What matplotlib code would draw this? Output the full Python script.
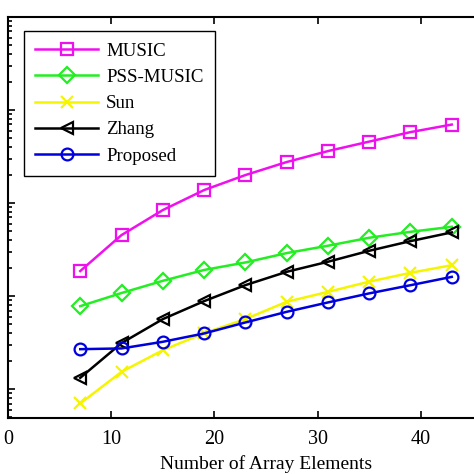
import matplotlib
matplotlib.use("Agg")
import matplotlib.pyplot as plt
from matplotlib.ticker import LogLocator, NullFormatter

plt.rcParams['font.family'] = ['Liberation Serif', 'DejaVu Serif']
plt.rcParams['mathtext.fontset'] = 'stix'

elements = [7, 11, 15, 19, 23, 27, 31, 35, 39, 43]
music = [0.186, 0.453, 0.841, 1.38, 2.00, 2.76, 3.62, 4.58, 5.79, 6.98]
pss_music = [0.078, 0.108, 0.146, 0.191, 0.230, 0.290, 0.348, 0.424, 0.491, 0.556]
sun = [0.00702, 0.01535, 0.0262, 0.0400, 0.0566, 0.0869, 0.111, 0.143, 0.178, 0.215]
zhang = [0.01324, 0.03126, 0.0566, 0.0883, 0.1312, 0.1824, 0.234, 0.307, 0.390, 0.484]
proposed = [0.0269, 0.0274, 0.0323, 0.0397, 0.0521, 0.0678, 0.0855, 0.107, 0.131, 0.161]

W = 474
fig = plt.figure(figsize=(4.74, 4.74), dpi=100)
# axes is cropped on the left and right, like the source image
ax = fig.add_axes([8 / W, 56 / W, 516 / W, 401 / W])

style = dict(linewidth=1.8, markersize=8.5, markeredgewidth=1.6, markerfacecolor='none')
ax.plot(elements, music, color='#EE11EE', marker='s', label='MUSIC', **style)
ax.plot(elements, pss_music, color='#22EE22', marker='D', label='PSS-MUSIC', **style)
ax.plot(elements, sun, color='#F5F500', marker='x', label='Sun', **style)
ax.plot(elements, zhang, color='black', marker='<', label='Zhang', **style)
ax.plot(elements, proposed, color='#0000DD', marker='o', label='Proposed', **style)

ax.set_yscale('log')
ax.set_xlim(0, 50)
ax.set_ylim(10 ** -2.31, 100)
ax.set_xticks([0, 10, 20, 30, 40])
ax.yaxis.set_major_locator(LogLocator(base=10))
ax.yaxis.set_minor_locator(LogLocator(base=10, subs=range(2, 10)))
ax.yaxis.set_minor_formatter(NullFormatter())

ax.tick_params(which='both', direction='in', top=True, right=True, labelsize=14.5, width=1.2)
ax.tick_params(which='major', length=5, pad=9)
ax.tick_params(which='minor', length=3)
for sp in ax.spines.values():
    sp.set_linewidth(1.5)

ax.set_xlabel('Number of Array Elements', fontsize=14, labelpad=4)

ax.legend(loc='upper left', bbox_to_anchor=(16 / 516, 1 - 14 / 401), borderaxespad=0,
          fontsize=13.6, fancybox=False, edgecolor='black', framealpha=1, handlelength=3.3,
          labelspacing=0.48, borderpad=0.6, handletextpad=0.45)

fig.savefig('out.png', dpi=100)
